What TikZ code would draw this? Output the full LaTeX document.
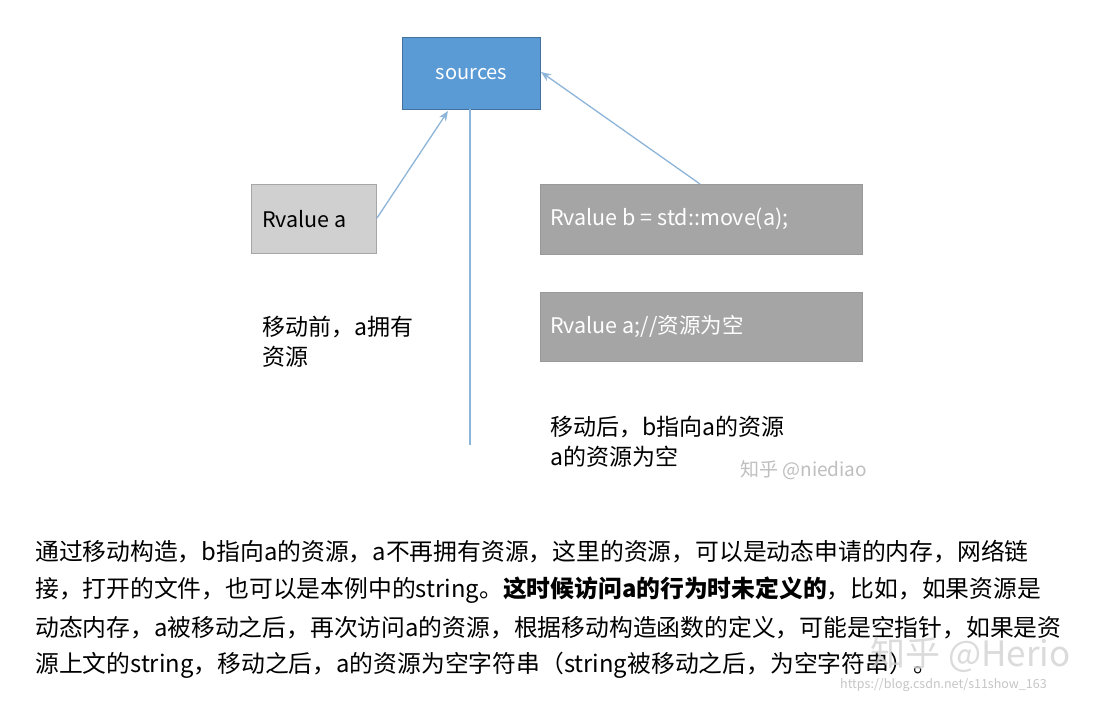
\documentclass[tikz,border=0pt]{standalone}
\usepackage{fontspec}
\setmainfont{Noto Sans CJK SC}
\usetikzlibrary{arrows.meta}
\definecolor{srcblue}{HTML}{5B9BD5}
\definecolor{srcedge}{HTML}{41719C}
\definecolor{lgray}{HTML}{D0D0D0}
\definecolor{dgray}{HTML}{A5A5A5}
\definecolor{lineblue}{HTML}{8DB4D9}
\begin{document}
\begin{tikzpicture}[x=1pt,y=-1pt,
  box/.style={draw, line width=1.2pt, anchor=north west, inner sep=0pt},
  lbl/.style={anchor=west, font=\fontsize{23}{30}\selectfont, inner sep=0pt, align=left},
  blbl/.style={anchor=west, inner sep=0pt, font=\fontsize{21.5}{24}\selectfont},
  conn/.style={draw=lineblue, line width=1.3pt},
  para/.style={anchor=west, inner sep=0pt, font=\fontsize{23.8}{26}\selectfont}]
\useasboundingbox (0,0) rectangle (1096,702);
\fill[white] (0,0) rectangle (1096,702);
\node[box, fill=srcblue, draw=srcedge, minimum width=138pt, minimum height=72pt, text=white, font=\fontsize{20}{22}\selectfont] (src) at (402,37) {sources};
\node[box, fill=lgray, draw=gray!70, minimum width=125pt, minimum height=69pt] (ra) at (251,184) {};
\node[blbl] at (262,219) {Rvalue a};
\node[box, fill=dgray, draw=gray!80, minimum width=322pt, minimum height=70pt] (rb) at (540,184) {};
\node[blbl, text=white] at (550,219) {Rvalue b = std::move(a);};
\node[box, fill=dgray, draw=gray!80, minimum width=322pt, minimum height=69pt] (re) at (540,292) {};
\node[blbl, text=white] at (550,326) {Rvalue a;//资源为空};
\coordinate (vtop) at (470,109);
\coordinate (vbot) at (470,445);
\draw[conn] (vtop) -- (vbot);
\coordinate (raTR) at (377,218);
\coordinate (srcB) at (448,111);
\draw[conn, -{Stealth[length=10pt,width=8pt]}] (raTR) -- (srcB);
\coordinate (rbT) at (700,184);
\coordinate (srcR) at (541,72);
\draw[conn, -{Stealth[length=10pt,width=8pt]}] (rbT) -- (srcR);
\node[lbl, anchor=north west] (t1) at (262,316) {移动前，a拥有\\资源};
\node[lbl, anchor=north west] (t2) at (550,416) {移动后，b指向a的资源\\a的资源为空};
\node[lbl, text=gray!50, font=\fontsize{19}{20}\selectfont] (wm1) at (740,470) {知乎 @niediao};
\node[para] (p1) at (35,552) {通过移动构造，b指向a的资源，a不再拥有资源，这里的资源，可以是动态申请的内存，网络链};
\node[para] (p2) at (35,590) {接，打开的文件，也可以是本例中的string。\textbf{这时候访问a的行为时未定义的}，比如，如果资源是};
\node[para] (p3) at (35,628) {动态内存，a被移动之后，再次访问a的资源，根据移动构造函数的定义，可能是空指针，如果是资};
\node[para] (p4) at (35,665) {源上文的string，移动之后，a的资源为空字符串（string被移动之后，为空字符串）。};
\node[anchor=west, inner sep=0pt, text=gray!35, font=\fontsize{35}{38}\selectfont, opacity=0.8] (wm2) at (870,655) {知乎 @Herio};
\node[anchor=west, inner sep=0pt, text=gray!45, font=\fontsize{12.5}{14}\selectfont] (wm3) at (840,685) {https://blog.csdn.net/s11show\_163};
\end{tikzpicture}
\end{document}
